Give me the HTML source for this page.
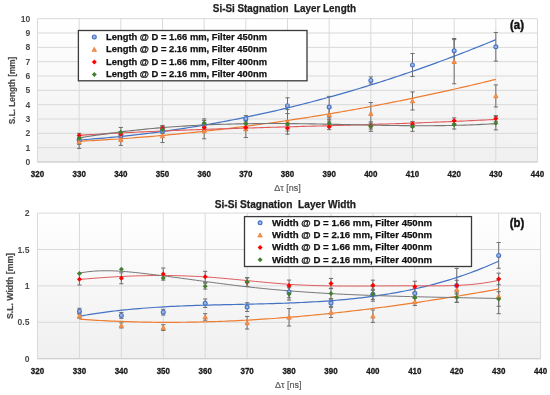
<!DOCTYPE html>
<html><head><meta charset="utf-8"><title>Si-Si Stagnation Layer</title>
<style>
html,body{margin:0;padding:0;background:#fff;width:550px;height:395px;overflow:hidden}
svg{display:block;filter:blur(0.3px)}
text{font-family:'Liberation Sans', Arial, sans-serif}
.tt{font-size:10.4px;font-weight:bold;fill:#1e1e1e;stroke:#1e1e1e;stroke-width:0.25px}
.ab{font-size:12.2px;font-weight:bold;fill:#111;stroke:#111;stroke-width:0.45px}
.yl{font-size:8.6px;font-weight:bold;fill:#4a4a4a}
.xl{font-size:8.4px;font-weight:bold;fill:#1a1a1a;stroke:#1a1a1a;stroke-width:0.3px}
.yt{font-size:8.8px;font-weight:bold;fill:#4a4a4a;stroke:#4a4a4a;stroke-width:0.2px}
.xt{font-size:9.2px;fill:#595959;stroke:#595959;stroke-width:0.2px}
.lg{font-size:9.6px;font-weight:bold;fill:#111;stroke:#111;stroke-width:0.25px}
</style></head><body>
<svg width="550" height="395" viewBox="0 0 550 395">
<defs>
<linearGradient id="gA" x1="0" y1="0" x2="0" y2="1"><stop offset="0" stop-color="#FFFFFF"/><stop offset="1" stop-color="#F0F0F0"/></linearGradient>
<linearGradient id="gB" x1="0" y1="0" x2="0" y2="1"><stop offset="0" stop-color="#FFFFFF"/><stop offset="1" stop-color="#F0F0F0"/></linearGradient>
</defs>
<rect width="550" height="395" fill="#FFFFFF"/>
<rect x="37.50" y="18.70" width="500.00" height="143.30" fill="url(#gA)"/><path d="M37.50,162.00H537.50M37.50,147.67H537.50M37.50,133.34H537.50M37.50,119.01H537.50M37.50,104.68H537.50M37.50,90.35H537.50M37.50,76.02H537.50M37.50,61.69H537.50M37.50,47.36H537.50M37.50,33.03H537.50M37.50,18.70H537.50M37.50,18.70V162.00M79.17,18.70V162.00M120.83,18.70V162.00M162.50,18.70V162.00M204.17,18.70V162.00M245.83,18.70V162.00M287.50,18.70V162.00M329.17,18.70V162.00M370.83,18.70V162.00M412.50,18.70V162.00M454.17,18.70V162.00M495.83,18.70V162.00M537.50,18.70V162.00" stroke="#D9D9D9" stroke-width="1" fill="none"/><path d="M37.50,162.00H537.50" stroke="#CDCDCD" stroke-width="1.1" fill="none"/><text x="30.3" y="165.10" text-anchor="end" class="yl">0</text><text x="30.3" y="150.77" text-anchor="end" class="yl">1</text><text x="30.3" y="136.44" text-anchor="end" class="yl">2</text><text x="30.3" y="122.11" text-anchor="end" class="yl">3</text><text x="30.3" y="107.78" text-anchor="end" class="yl">4</text><text x="30.3" y="93.45" text-anchor="end" class="yl">5</text><text x="30.3" y="79.12" text-anchor="end" class="yl">6</text><text x="30.3" y="64.79" text-anchor="end" class="yl">7</text><text x="30.3" y="50.46" text-anchor="end" class="yl">8</text><text x="30.3" y="36.13" text-anchor="end" class="yl">9</text><text x="30.3" y="21.80" text-anchor="end" class="yl">10</text><text x="37.50" y="177.00" text-anchor="middle" class="xl" textLength="13.3" lengthAdjust="spacingAndGlyphs">320</text><text x="79.17" y="177.00" text-anchor="middle" class="xl" textLength="13.3" lengthAdjust="spacingAndGlyphs">330</text><text x="120.83" y="177.00" text-anchor="middle" class="xl" textLength="13.3" lengthAdjust="spacingAndGlyphs">340</text><text x="162.50" y="177.00" text-anchor="middle" class="xl" textLength="13.3" lengthAdjust="spacingAndGlyphs">350</text><text x="204.17" y="177.00" text-anchor="middle" class="xl" textLength="13.3" lengthAdjust="spacingAndGlyphs">360</text><text x="245.83" y="177.00" text-anchor="middle" class="xl" textLength="13.3" lengthAdjust="spacingAndGlyphs">370</text><text x="287.50" y="177.00" text-anchor="middle" class="xl" textLength="13.3" lengthAdjust="spacingAndGlyphs">380</text><text x="329.17" y="177.00" text-anchor="middle" class="xl" textLength="13.3" lengthAdjust="spacingAndGlyphs">390</text><text x="370.83" y="177.00" text-anchor="middle" class="xl" textLength="13.3" lengthAdjust="spacingAndGlyphs">400</text><text x="412.50" y="177.00" text-anchor="middle" class="xl" textLength="13.3" lengthAdjust="spacingAndGlyphs">410</text><text x="454.17" y="177.00" text-anchor="middle" class="xl" textLength="13.3" lengthAdjust="spacingAndGlyphs">420</text><text x="495.83" y="177.00" text-anchor="middle" class="xl" textLength="13.3" lengthAdjust="spacingAndGlyphs">430</text><text x="537.50" y="177.00" text-anchor="middle" class="xl" textLength="13.3" lengthAdjust="spacingAndGlyphs">440</text><text transform="translate(15.20,90.40) rotate(-90)" text-anchor="middle" class="yt" textLength="67.5" lengthAdjust="spacingAndGlyphs">S.L. Length [mm]</text><text x="274.30" y="191.00" class="xt" textLength="26.5" lengthAdjust="spacingAndGlyphs">&#916;&#964; [ns]</text>
<text x="212.8" y="12.0" class="tt" textLength="143.2" lengthAdjust="spacingAndGlyphs">Si-Si Stagnation&#160; Layer Length</text>
<text x="517" y="29.1" text-anchor="middle" class="ab" textLength="13.9" lengthAdjust="spacingAndGlyphs">(a)</text>
<g stroke="#6E6E6E" stroke-width="1.0" fill="none"><path d="M79.17,135.78V144.37M77.07,135.78H81.27M77.07,144.37H81.27"/><path d="M120.83,131.62V140.22M118.73,131.62H122.93M118.73,140.22H122.93"/><path d="M162.50,126.89V135.49M160.40,126.89H164.60M160.40,135.49H164.60"/><path d="M204.17,120.44V129.04M202.07,120.44H206.27M202.07,129.04H206.27"/><path d="M245.83,115.57V121.88M243.73,115.57H247.93M243.73,121.88H247.93"/><path d="M287.50,97.80V113.56M285.40,97.80H289.60M285.40,113.56H289.60"/><path d="M329.17,96.37V117.86M327.07,96.37H331.27M327.07,117.86H331.27"/><path d="M370.83,76.88V84.04M368.73,76.88H372.93M368.73,84.04H372.93"/><path d="M412.50,53.52V76.45M410.40,53.52H414.60M410.40,76.45H414.60"/><path d="M454.17,38.48V62.84M452.07,38.48H456.27M452.07,62.84H456.27"/><path d="M495.83,32.46V61.12M493.73,32.46H497.93M493.73,61.12H497.93"/></g>
<g stroke="#6E6E6E" stroke-width="1.0" fill="none"><path d="M79.17,135.49V148.39M77.07,135.49H81.27M77.07,148.39H81.27"/><path d="M120.83,133.91V145.38M118.73,133.91H122.93M118.73,145.38H122.93"/><path d="M162.50,129.33V142.51M160.40,129.33H164.60M160.40,142.51H164.60"/><path d="M204.17,123.02V138.79M202.07,123.02H206.27M202.07,138.79H206.27"/><path d="M245.83,120.30V137.50M243.73,120.30H247.93M243.73,137.50H247.93"/><path d="M287.50,109.55V134.20M285.40,109.55H289.60M285.40,134.20H289.60"/><path d="M329.17,108.26V121.16M327.07,108.26H331.27M327.07,121.16H331.27"/><path d="M370.83,102.53V124.60M368.73,102.53H372.93M368.73,124.60H372.93"/><path d="M412.50,91.93V109.98M410.40,91.93H414.60M410.40,109.98H414.60"/><path d="M454.17,39.62V83.76M452.07,39.62H456.27M452.07,83.76H456.27"/><path d="M495.83,84.90V106.97M493.73,84.90H497.93M493.73,106.97H497.93"/></g>
<g stroke="#6E6E6E" stroke-width="1.0" fill="none"><path d="M79.17,133.34V137.64M77.07,133.34H81.27M77.07,137.64H81.27"/><path d="M120.83,131.48V137.21M118.73,131.48H122.93M118.73,137.21H122.93"/><path d="M162.50,125.46V131.19M160.40,125.46H164.60M160.40,131.19H164.60"/><path d="M204.17,124.74V130.47M202.07,124.74H206.27M202.07,130.47H206.27"/><path d="M245.83,124.74V130.47M243.73,124.74H247.93M243.73,130.47H247.93"/><path d="M287.50,125.32V131.05M285.40,125.32H289.60M285.40,131.05H289.60"/><path d="M329.17,123.88V129.61M327.07,123.88H331.27M327.07,129.61H331.27"/><path d="M370.83,123.31V129.04M368.73,123.31H372.93M368.73,129.04H372.93"/><path d="M412.50,121.45V127.18M410.40,121.45H414.60M410.40,127.18H414.60"/><path d="M454.17,117.86V123.60M452.07,117.86H456.27M452.07,123.60H456.27"/><path d="M495.83,115.57V121.30M493.73,115.57H497.93M493.73,121.30H497.93"/></g>
<g stroke="#6E6E6E" stroke-width="1.0" fill="none"><path d="M79.17,135.35V141.08M77.07,135.35H81.27M77.07,141.08H81.27"/><path d="M120.83,127.46V136.92M118.73,127.46H122.93M118.73,136.92H122.93"/><path d="M162.50,126.17V133.34M160.40,126.17H164.60M160.40,133.34H164.60"/><path d="M204.17,118.87V127.75M202.07,118.87H206.27M202.07,127.75H206.27"/><path d="M245.83,120.01V127.18M243.73,120.01H247.93M243.73,127.18H247.93"/><path d="M287.50,120.44V127.61M285.40,120.44H289.60M285.40,127.61H289.60"/><path d="M329.17,119.73V126.89M327.07,119.73H331.27M327.07,126.89H331.27"/><path d="M370.83,121.88V131.33M368.73,121.88H372.93M368.73,131.33H372.93"/><path d="M412.50,122.16V131.33M410.40,122.16H414.60M410.40,131.33H414.60"/><path d="M454.17,120.44V129.04M452.07,120.44H456.27M452.07,129.04H456.27"/><path d="M495.83,116.72V129.90M493.73,116.72H497.93M493.73,129.90H497.93"/></g>
<path d="M79.17,139.98 L82.67,139.74 L86.17,139.49 L89.67,139.23 L93.17,138.96 L96.67,138.68 L100.18,138.38 L103.68,138.08 L107.18,137.77 L110.68,137.45 L114.18,137.12 L117.68,136.77 L121.18,136.42 L124.68,136.06 L128.19,135.68 L131.69,135.30 L135.19,134.91 L138.69,134.50 L142.19,134.09 L145.69,133.67 L149.19,133.23 L152.70,132.79 L156.20,132.33 L159.70,131.87 L163.20,131.39 L166.70,130.91 L170.20,130.41 L173.70,129.90 L177.21,129.39 L180.71,128.86 L184.21,128.33 L187.71,127.78 L191.21,127.22 L194.71,126.65 L198.21,126.08 L201.72,125.49 L205.22,124.89 L208.72,124.28 L212.22,123.67 L215.72,123.04 L219.22,122.40 L222.72,121.75 L226.23,121.09 L229.73,120.42 L233.23,119.74 L236.73,119.05 L240.23,118.35 L243.73,117.64 L247.23,116.92 L250.74,116.19 L254.24,115.45 L257.74,114.70 L261.24,113.94 L264.74,113.17 L268.24,112.38 L271.74,111.59 L275.25,110.79 L278.75,109.98 L282.25,109.15 L285.75,108.32 L289.25,107.48 L292.75,106.63 L296.25,105.76 L299.75,104.89 L303.26,104.00 L306.76,103.11 L310.26,102.21 L313.76,101.29 L317.26,100.37 L320.76,99.43 L324.26,98.49 L327.77,97.53 L331.27,96.56 L334.77,95.59 L338.27,94.60 L341.77,93.61 L345.27,92.60 L348.77,91.58 L352.28,90.56 L355.78,89.52 L359.28,88.47 L362.78,87.41 L366.28,86.35 L369.78,85.27 L373.28,84.18 L376.79,83.08 L380.29,81.97 L383.79,80.85 L387.29,79.73 L390.79,78.59 L394.29,77.44 L397.79,76.28 L401.30,75.11 L404.80,73.93 L408.30,72.74 L411.80,71.54 L415.30,70.32 L418.80,69.10 L422.30,67.87 L425.81,66.63 L429.31,65.38 L432.81,64.12 L436.31,62.85 L439.81,61.56 L443.31,60.27 L446.81,58.97 L450.32,57.65 L453.82,56.33 L457.32,55.00 L460.82,53.65 L464.32,52.30 L467.82,50.94 L471.32,49.56 L474.82,48.18 L478.33,46.78 L481.83,45.38 L485.33,43.96 L488.83,42.54 L492.33,41.10 L495.83,39.66" fill="none" stroke="#4472C4" stroke-width="1.2" stroke-linejoin="round"/>
<path d="M79.17,141.31 L82.67,141.13 L86.17,140.95 L89.67,140.75 L93.17,140.55 L96.67,140.35 L100.18,140.14 L103.68,139.92 L107.18,139.70 L110.68,139.47 L114.18,139.24 L117.68,139.00 L121.18,138.76 L124.68,138.51 L128.19,138.25 L131.69,137.99 L135.19,137.72 L138.69,137.45 L142.19,137.17 L145.69,136.88 L149.19,136.59 L152.70,136.29 L156.20,135.99 L159.70,135.68 L163.20,135.37 L166.70,135.05 L170.20,134.72 L173.70,134.39 L177.21,134.06 L180.71,133.71 L184.21,133.37 L187.71,133.01 L191.21,132.65 L194.71,132.29 L198.21,131.91 L201.72,131.54 L205.22,131.16 L208.72,130.77 L212.22,130.37 L215.72,129.97 L219.22,129.57 L222.72,129.15 L226.23,128.74 L229.73,128.31 L233.23,127.89 L236.73,127.45 L240.23,127.01 L243.73,126.56 L247.23,126.11 L250.74,125.65 L254.24,125.19 L257.74,124.72 L261.24,124.25 L264.74,123.77 L268.24,123.28 L271.74,122.79 L275.25,122.29 L278.75,121.79 L282.25,121.28 L285.75,120.76 L289.25,120.24 L292.75,119.71 L296.25,119.18 L299.75,118.64 L303.26,118.10 L306.76,117.55 L310.26,117.00 L313.76,116.43 L317.26,115.87 L320.76,115.29 L324.26,114.72 L327.77,114.13 L331.27,113.54 L334.77,112.95 L338.27,112.35 L341.77,111.74 L345.27,111.13 L348.77,110.51 L352.28,109.88 L355.78,109.25 L359.28,108.62 L362.78,107.97 L366.28,107.33 L369.78,106.67 L373.28,106.02 L376.79,105.35 L380.29,104.68 L383.79,104.00 L387.29,103.32 L390.79,102.63 L394.29,101.94 L397.79,101.24 L401.30,100.54 L404.80,99.83 L408.30,99.11 L411.80,98.39 L415.30,97.66 L418.80,96.93 L422.30,96.19 L425.81,95.44 L429.31,94.69 L432.81,93.93 L436.31,93.17 L439.81,92.40 L443.31,91.63 L446.81,90.85 L450.32,90.06 L453.82,89.27 L457.32,88.48 L460.82,87.67 L464.32,86.87 L467.82,86.05 L471.32,85.23 L474.82,84.41 L478.33,83.57 L481.83,82.74 L485.33,81.89 L488.83,81.05 L492.33,80.19 L495.83,79.33" fill="none" stroke="#ED7D31" stroke-width="1.2" stroke-linejoin="round"/>
<path d="M79.17,135.30 L82.67,135.09 L86.17,134.87 L89.67,134.66 L93.17,134.45 L96.67,134.25 L100.18,134.05 L103.68,133.86 L107.18,133.66 L110.68,133.47 L114.18,133.29 L117.68,133.10 L121.18,132.92 L124.68,132.75 L128.19,132.57 L131.69,132.40 L135.19,132.23 L138.69,132.07 L142.19,131.91 L145.69,131.75 L149.19,131.59 L152.70,131.44 L156.20,131.28 L159.70,131.13 L163.20,130.99 L166.70,130.84 L170.20,130.70 L173.70,130.56 L177.21,130.42 L180.71,130.29 L184.21,130.15 L187.71,130.02 L191.21,129.89 L194.71,129.76 L198.21,129.64 L201.72,129.51 L205.22,129.39 L208.72,129.27 L212.22,129.15 L215.72,129.03 L219.22,128.92 L222.72,128.80 L226.23,128.69 L229.73,128.58 L233.23,128.47 L236.73,128.36 L240.23,128.25 L243.73,128.14 L247.23,128.04 L250.74,127.93 L254.24,127.83 L257.74,127.72 L261.24,127.62 L264.74,127.52 L268.24,127.41 L271.74,127.31 L275.25,127.21 L278.75,127.11 L282.25,127.01 L285.75,126.91 L289.25,126.82 L292.75,126.72 L296.25,126.62 L299.75,126.52 L303.26,126.42 L306.76,126.32 L310.26,126.23 L313.76,126.13 L317.26,126.03 L320.76,125.93 L324.26,125.83 L327.77,125.73 L331.27,125.63 L334.77,125.53 L338.27,125.43 L341.77,125.33 L345.27,125.23 L348.77,125.13 L352.28,125.02 L355.78,124.92 L359.28,124.81 L362.78,124.71 L366.28,124.60 L369.78,124.49 L373.28,124.38 L376.79,124.27 L380.29,124.16 L383.79,124.05 L387.29,123.93 L390.79,123.82 L394.29,123.70 L397.79,123.58 L401.30,123.46 L404.80,123.34 L408.30,123.22 L411.80,123.09 L415.30,122.96 L418.80,122.83 L422.30,122.70 L425.81,122.57 L429.31,122.44 L432.81,122.30 L436.31,122.16 L439.81,122.02 L443.31,121.87 L446.81,121.73 L450.32,121.58 L453.82,121.43 L457.32,121.28 L460.82,121.12 L464.32,120.96 L467.82,120.80 L471.32,120.64 L474.82,120.47 L478.33,120.30 L481.83,120.13 L485.33,119.95 L488.83,119.77 L492.33,119.59 L495.83,119.40" fill="none" stroke="#E05A5A" stroke-width="1.1" stroke-linejoin="round"/>
<path d="M79.17,137.92 L82.67,137.34 L86.17,136.76 L89.67,136.20 L93.17,135.66 L96.67,135.13 L100.18,134.61 L103.68,134.11 L107.18,133.63 L110.68,133.15 L114.18,132.69 L117.68,132.24 L121.18,131.81 L124.68,131.39 L128.19,130.98 L131.69,130.58 L135.19,130.20 L138.69,129.83 L142.19,129.47 L145.69,129.13 L149.19,128.79 L152.70,128.47 L156.20,128.16 L159.70,127.86 L163.20,127.58 L166.70,127.30 L170.20,127.04 L173.70,126.78 L177.21,126.54 L180.71,126.31 L184.21,126.09 L187.71,125.87 L191.21,125.67 L194.71,125.48 L198.21,125.30 L201.72,125.13 L205.22,124.97 L208.72,124.82 L212.22,124.67 L215.72,124.54 L219.22,124.42 L222.72,124.30 L226.23,124.19 L229.73,124.10 L233.23,124.01 L236.73,123.92 L240.23,123.85 L243.73,123.79 L247.23,123.73 L250.74,123.68 L254.24,123.64 L257.74,123.60 L261.24,123.57 L264.74,123.55 L268.24,123.54 L271.74,123.53 L275.25,123.53 L278.75,123.54 L282.25,123.55 L285.75,123.57 L289.25,123.60 L292.75,123.63 L296.25,123.66 L299.75,123.71 L303.26,123.75 L306.76,123.80 L310.26,123.86 L313.76,123.92 L317.26,123.98 L320.76,124.04 L324.26,124.11 L327.77,124.18 L331.27,124.25 L334.77,124.33 L338.27,124.40 L341.77,124.48 L345.27,124.56 L348.77,124.64 L352.28,124.71 L355.78,124.79 L359.28,124.87 L362.78,124.94 L366.28,125.02 L369.78,125.09 L373.28,125.16 L376.79,125.23 L380.29,125.29 L383.79,125.35 L387.29,125.41 L390.79,125.46 L394.29,125.52 L397.79,125.56 L401.30,125.60 L404.80,125.64 L408.30,125.67 L411.80,125.69 L415.30,125.71 L418.80,125.72 L422.30,125.73 L425.81,125.73 L429.31,125.72 L432.81,125.70 L436.31,125.67 L439.81,125.64 L443.31,125.59 L446.81,125.54 L450.32,125.48 L453.82,125.40 L457.32,125.32 L460.82,125.23 L464.32,125.12 L467.82,125.01 L471.32,124.88 L474.82,124.74 L478.33,124.59 L481.83,124.42 L485.33,124.24 L488.83,124.05 L492.33,123.85 L495.83,123.63" fill="none" stroke="#767676" stroke-width="1.1" stroke-linejoin="round"/>
<circle cx="79.17" cy="140.08" r="1.95" fill="#9DB5E6" stroke="#4472C4" stroke-width="1.1"/><circle cx="120.83" cy="135.92" r="1.95" fill="#9DB5E6" stroke="#4472C4" stroke-width="1.1"/><circle cx="162.50" cy="131.19" r="1.95" fill="#9DB5E6" stroke="#4472C4" stroke-width="1.1"/><circle cx="204.17" cy="124.74" r="1.95" fill="#9DB5E6" stroke="#4472C4" stroke-width="1.1"/><circle cx="245.83" cy="118.72" r="1.95" fill="#9DB5E6" stroke="#4472C4" stroke-width="1.1"/><circle cx="287.50" cy="105.68" r="1.95" fill="#9DB5E6" stroke="#4472C4" stroke-width="1.1"/><circle cx="329.17" cy="107.12" r="1.95" fill="#9DB5E6" stroke="#4472C4" stroke-width="1.1"/><circle cx="370.83" cy="80.46" r="1.95" fill="#9DB5E6" stroke="#4472C4" stroke-width="1.1"/><circle cx="412.50" cy="64.99" r="1.95" fill="#9DB5E6" stroke="#4472C4" stroke-width="1.1"/><circle cx="454.17" cy="50.66" r="1.95" fill="#9DB5E6" stroke="#4472C4" stroke-width="1.1"/><circle cx="495.83" cy="46.79" r="1.95" fill="#9DB5E6" stroke="#4472C4" stroke-width="1.1"/>
<path d="M79.17,139.74L81.37,143.81L76.97,143.81Z" fill="#F0955A" stroke="#ED7D31" stroke-width="0.8"/><path d="M120.83,137.45L123.03,141.52L118.63,141.52Z" fill="#F0955A" stroke="#ED7D31" stroke-width="0.8"/><path d="M162.50,133.72L164.70,137.79L160.30,137.79Z" fill="#F0955A" stroke="#ED7D31" stroke-width="0.8"/><path d="M204.17,128.70L206.37,132.77L201.97,132.77Z" fill="#F0955A" stroke="#ED7D31" stroke-width="0.8"/><path d="M245.83,126.70L248.03,130.77L243.63,130.77Z" fill="#F0955A" stroke="#ED7D31" stroke-width="0.8"/><path d="M287.50,119.68L289.70,123.75L285.30,123.75Z" fill="#F0955A" stroke="#ED7D31" stroke-width="0.8"/><path d="M329.17,112.51L331.37,116.58L326.97,116.58Z" fill="#F0955A" stroke="#ED7D31" stroke-width="0.8"/><path d="M370.83,111.36L373.03,115.43L368.63,115.43Z" fill="#F0955A" stroke="#ED7D31" stroke-width="0.8"/><path d="M412.50,98.75L414.70,102.82L410.30,102.82Z" fill="#F0955A" stroke="#ED7D31" stroke-width="0.8"/><path d="M454.17,59.49L456.37,63.56L451.97,63.56Z" fill="#F0955A" stroke="#ED7D31" stroke-width="0.8"/><path d="M495.83,93.74L498.03,97.81L493.63,97.81Z" fill="#F0955A" stroke="#ED7D31" stroke-width="0.8"/>
<path d="M79.17,132.99L81.67,135.49L79.17,137.99L76.67,135.49Z" fill="#FF0000"/><path d="M120.83,131.84L123.33,134.34L120.83,136.84L118.33,134.34Z" fill="#FF0000"/><path d="M162.50,125.82L165.00,128.32L162.50,130.82L160.00,128.32Z" fill="#FF0000"/><path d="M204.17,125.11L206.67,127.61L204.17,130.11L201.67,127.61Z" fill="#FF0000"/><path d="M245.83,125.11L248.33,127.61L245.83,130.11L243.33,127.61Z" fill="#FF0000"/><path d="M287.50,125.68L290.00,128.18L287.50,130.68L285.00,128.18Z" fill="#FF0000"/><path d="M329.17,124.25L331.67,126.75L329.17,129.25L326.67,126.75Z" fill="#FF0000"/><path d="M370.83,123.67L373.33,126.17L370.83,128.68L368.33,126.17Z" fill="#FF0000"/><path d="M412.50,121.81L415.00,124.31L412.50,126.81L410.00,124.31Z" fill="#FF0000"/><path d="M454.17,118.23L456.67,120.73L454.17,123.23L451.67,120.73Z" fill="#FF0000"/><path d="M495.83,115.94L498.33,118.44L495.83,120.94L493.33,118.44Z" fill="#FF0000"/>
<path d="M79.17,135.71L81.67,138.21L79.17,140.71L76.67,138.21Z" fill="#437F2F"/><path d="M120.83,129.69L123.33,132.19L120.83,134.69L118.33,132.19Z" fill="#437F2F"/><path d="M162.50,127.26L165.00,129.76L162.50,132.26L160.00,129.76Z" fill="#437F2F"/><path d="M204.17,120.81L206.67,123.31L204.17,125.81L201.67,123.31Z" fill="#437F2F"/><path d="M245.83,121.10L248.33,123.60L245.83,126.10L243.33,123.60Z" fill="#437F2F"/><path d="M287.50,121.53L290.00,124.03L287.50,126.53L285.00,124.03Z" fill="#437F2F"/><path d="M329.17,120.81L331.67,123.31L329.17,125.81L326.67,123.31Z" fill="#437F2F"/><path d="M370.83,124.10L373.33,126.60L370.83,129.10L368.33,126.60Z" fill="#437F2F"/><path d="M412.50,124.25L415.00,126.75L412.50,129.25L410.00,126.75Z" fill="#437F2F"/><path d="M454.17,122.24L456.67,124.74L454.17,127.24L451.67,124.74Z" fill="#437F2F"/><path d="M495.83,120.81L498.33,123.31L495.83,125.81L493.33,123.31Z" fill="#437F2F"/>
<rect x="78.40" y="30.50" width="228.60" height="50.30" fill="#fff" stroke="#3A3A3A" stroke-width="1.3"/><circle cx="94.30" cy="37.00" r="1.95" fill="#9DB5E6" stroke="#4472C4" stroke-width="1.1"/><text x="106.00" y="39.80" class="lg" textLength="161.0" lengthAdjust="spacingAndGlyphs">Length @ D = 1.66 mm, Filter 450nm</text><path d="M94.30,47.30L96.50,51.37L92.10,51.37Z" fill="#F0955A" stroke="#ED7D31" stroke-width="0.8"/><text x="106.00" y="52.30" class="lg" textLength="161.0" lengthAdjust="spacingAndGlyphs">Length @ D = 2.16 mm, Filter 450nm</text><path d="M94.30,59.50L96.80,62.00L94.30,64.50L91.80,62.00Z" fill="#FF0000"/><text x="106.00" y="64.80" class="lg" textLength="161.0" lengthAdjust="spacingAndGlyphs">Length @ D = 1.66 mm, Filter 400nm</text><path d="M94.30,72.10L96.80,74.60L94.30,77.10L91.80,74.60Z" fill="#437F2F"/><text x="106.00" y="77.40" class="lg" textLength="161.0" lengthAdjust="spacingAndGlyphs">Length @ D = 2.16 mm, Filter 400nm</text>
<rect x="37.50" y="213.10" width="503.10" height="145.60" fill="url(#gB)"/><path d="M37.50,358.70H540.60M37.50,322.30H540.60M37.50,285.90H540.60M37.50,249.50H540.60M37.50,213.10H540.60M37.50,213.10V358.70M79.42,213.10V358.70M121.35,213.10V358.70M163.28,213.10V358.70M205.20,213.10V358.70M247.12,213.10V358.70M289.05,213.10V358.70M330.98,213.10V358.70M372.90,213.10V358.70M414.82,213.10V358.70M456.75,213.10V358.70M498.68,213.10V358.70M540.60,213.10V358.70" stroke="#D9D9D9" stroke-width="1" fill="none"/><path d="M37.50,358.70H540.60" stroke="#CDCDCD" stroke-width="1.1" fill="none"/><text x="29.5" y="361.80" text-anchor="end" class="yl">0</text><text x="29.5" y="325.40" text-anchor="end" class="yl">0.5</text><text x="29.5" y="289.00" text-anchor="end" class="yl">1</text><text x="29.5" y="252.60" text-anchor="end" class="yl">1.5</text><text x="29.5" y="216.20" text-anchor="end" class="yl">2</text><text x="37.50" y="373.90" text-anchor="middle" class="xl" textLength="13.3" lengthAdjust="spacingAndGlyphs">320</text><text x="79.42" y="373.90" text-anchor="middle" class="xl" textLength="13.3" lengthAdjust="spacingAndGlyphs">330</text><text x="121.35" y="373.90" text-anchor="middle" class="xl" textLength="13.3" lengthAdjust="spacingAndGlyphs">340</text><text x="163.28" y="373.90" text-anchor="middle" class="xl" textLength="13.3" lengthAdjust="spacingAndGlyphs">350</text><text x="205.20" y="373.90" text-anchor="middle" class="xl" textLength="13.3" lengthAdjust="spacingAndGlyphs">360</text><text x="247.12" y="373.90" text-anchor="middle" class="xl" textLength="13.3" lengthAdjust="spacingAndGlyphs">370</text><text x="289.05" y="373.90" text-anchor="middle" class="xl" textLength="13.3" lengthAdjust="spacingAndGlyphs">380</text><text x="330.98" y="373.90" text-anchor="middle" class="xl" textLength="13.3" lengthAdjust="spacingAndGlyphs">390</text><text x="372.90" y="373.90" text-anchor="middle" class="xl" textLength="13.3" lengthAdjust="spacingAndGlyphs">400</text><text x="414.82" y="373.90" text-anchor="middle" class="xl" textLength="13.3" lengthAdjust="spacingAndGlyphs">410</text><text x="456.75" y="373.90" text-anchor="middle" class="xl" textLength="13.3" lengthAdjust="spacingAndGlyphs">420</text><text x="498.68" y="373.90" text-anchor="middle" class="xl" textLength="13.3" lengthAdjust="spacingAndGlyphs">430</text><text x="540.60" y="373.90" text-anchor="middle" class="xl" textLength="13.3" lengthAdjust="spacingAndGlyphs">440</text><text transform="translate(12.60,286.00) rotate(-90)" text-anchor="middle" class="yt" textLength="66.0" lengthAdjust="spacingAndGlyphs">S.L. Width [mm]</text><text x="275.00" y="388.00" class="xt" textLength="26.5" lengthAdjust="spacingAndGlyphs">&#916;&#964; [ns]</text>
<text x="214.7" y="207.8" class="tt" textLength="141.3" lengthAdjust="spacingAndGlyphs">Si-Si Stagnation&#160; Layer Width</text>
<text x="517" y="227.4" text-anchor="middle" class="ab" textLength="14.5" lengthAdjust="spacingAndGlyphs">(b)</text>
<g stroke="#6E6E6E" stroke-width="1.0" fill="none"><path d="M79.42,308.32V314.15M77.33,308.32H81.52M77.33,314.15H81.52"/><path d="M121.35,312.47V318.30M119.25,312.47H123.45M119.25,318.30H123.45"/><path d="M163.28,309.27V315.09M161.18,309.27H165.38M161.18,315.09H165.38"/><path d="M205.20,299.00V307.45M203.10,299.00H207.30M203.10,307.45H207.30"/><path d="M247.12,302.72V311.45M245.03,302.72H249.22M245.03,311.45H249.22"/><path d="M289.05,286.19V297.84M286.95,286.19H291.15M286.95,297.84H291.15"/><path d="M330.98,299.80V306.36M328.88,299.80H333.08M328.88,306.36H333.08"/><path d="M372.90,289.18V299.37M370.80,289.18H375.00M370.80,299.37H375.00"/><path d="M414.82,288.30V298.49M412.72,288.30H416.93M412.72,298.49H416.93"/><path d="M456.75,268.43V302.35M454.65,268.43H458.85M454.65,302.35H458.85"/><path d="M498.68,242.51V268.28M496.57,242.51H500.78M496.57,268.28H500.78"/></g>
<g stroke="#6E6E6E" stroke-width="1.0" fill="none"><path d="M79.42,313.78V318.15M77.33,313.78H81.52M77.33,318.15H81.52"/><path d="M121.35,322.88V327.98M119.25,322.88H123.45M119.25,327.98H123.45"/><path d="M163.28,324.70V330.53M161.18,324.70H165.38M161.18,330.53H165.38"/><path d="M205.20,313.64V320.19M203.10,313.64H207.30M203.10,320.19H207.30"/><path d="M247.12,316.48V329.00M245.03,316.48H249.22M245.03,329.00H249.22"/><path d="M289.05,308.54V326.01M286.95,308.54H291.15M286.95,326.01H291.15"/><path d="M330.98,307.38V317.57M328.88,307.38H333.08M328.88,317.57H333.08"/><path d="M372.90,310.00V322.37M370.80,310.00H375.00M370.80,322.37H375.00"/><path d="M414.82,298.28V305.56M412.72,298.28H416.93M412.72,305.56H416.93"/><path d="M456.75,285.32V294.05M454.65,285.32H458.85M454.65,294.05H458.85"/><path d="M498.68,278.77V313.71M496.57,278.77H500.78M496.57,313.71H500.78"/></g>
<g stroke="#6E6E6E" stroke-width="1.0" fill="none"><path d="M79.42,273.38V285.03M77.33,273.38H81.52M77.33,285.03H81.52"/><path d="M121.35,272.80V283.72M119.25,272.80H123.45M119.25,283.72H123.45"/><path d="M163.28,268.06V280.15M161.18,268.06H165.38M161.18,280.15H165.38"/><path d="M205.20,271.34V282.41M203.10,271.34H207.30M203.10,282.41H207.30"/><path d="M247.12,277.82V286.56M245.03,277.82H249.22M245.03,286.56H249.22"/><path d="M289.05,280.08V290.70M286.95,280.08H291.15M286.95,290.70H291.15"/><path d="M330.98,278.47V288.67M328.88,278.47H333.08M328.88,288.67H333.08"/><path d="M372.90,280.15V290.34M370.80,280.15H375.00M370.80,290.34H375.00"/><path d="M414.82,281.24V292.16M412.72,281.24H416.93M412.72,292.16H416.93"/><path d="M456.75,280.29V290.49M454.65,280.29H458.85M454.65,290.49H458.85"/><path d="M498.68,273.16V284.81M496.57,273.16H500.78M496.57,284.81H500.78"/></g>
<g stroke="#6E6E6E" stroke-width="1.0" fill="none"><path d="M205.20,283.28V289.10M203.10,283.28H207.30M203.10,289.10H207.30"/><path d="M247.12,277.75V286.48M245.03,277.75H249.22M245.03,286.48H249.22"/><path d="M289.05,287.72V300.10M286.95,287.72H291.15M286.95,300.10H291.15"/><path d="M330.98,288.30V298.49M328.88,288.30H333.08M328.88,298.49H333.08"/><path d="M372.90,286.63V301.19M370.80,286.63H375.00M370.80,301.19H375.00"/><path d="M414.82,292.45V302.64M412.72,292.45H416.93M412.72,302.64H416.93"/><path d="M456.75,293.03V302.21M454.65,293.03H458.85M454.65,302.21H458.85"/><path d="M498.68,291.72V306.28M496.57,291.72H500.78M496.57,306.28H500.78"/></g>
<path d="M79.42,316.25 L82.95,315.62 L86.47,315.02 L89.99,314.44 L93.52,313.89 L97.04,313.36 L100.56,312.85 L104.09,312.36 L107.61,311.89 L111.13,311.44 L114.66,311.02 L118.18,310.61 L121.70,310.22 L125.23,309.85 L128.75,309.50 L132.27,309.17 L135.79,308.85 L139.32,308.55 L142.84,308.26 L146.36,307.99 L149.89,307.74 L153.41,307.49 L156.93,307.27 L160.46,307.05 L163.98,306.85 L167.50,306.65 L171.03,306.47 L174.55,306.30 L178.07,306.14 L181.60,305.99 L185.12,305.85 L188.64,305.72 L192.16,305.59 L195.69,305.47 L199.21,305.36 L202.73,305.25 L206.26,305.15 L209.78,305.06 L213.30,304.97 L216.83,304.88 L220.35,304.80 L223.87,304.72 L227.40,304.64 L230.92,304.56 L234.44,304.48 L237.96,304.41 L241.49,304.33 L245.01,304.26 L248.53,304.18 L252.06,304.10 L255.58,304.02 L259.10,303.94 L262.63,303.85 L266.15,303.76 L269.67,303.66 L273.20,303.56 L276.72,303.46 L280.24,303.35 L283.77,303.23 L287.29,303.10 L290.81,302.97 L294.33,302.82 L297.86,302.67 L301.38,302.51 L304.90,302.34 L308.43,302.16 L311.95,301.97 L315.47,301.76 L319.00,301.55 L322.52,301.32 L326.04,301.08 L329.57,300.82 L333.09,300.55 L336.61,300.26 L340.14,299.96 L343.66,299.64 L347.18,299.31 L350.70,298.96 L354.23,298.59 L357.75,298.20 L361.27,297.79 L364.80,297.36 L368.32,296.92 L371.84,296.45 L375.37,295.96 L378.89,295.45 L382.41,294.92 L385.94,294.36 L389.46,293.78 L392.98,293.18 L396.50,292.55 L400.03,291.90 L403.55,291.22 L407.07,290.52 L410.60,289.79 L414.12,289.03 L417.64,288.24 L421.17,287.43 L424.69,286.58 L428.21,285.71 L431.74,284.81 L435.26,283.87 L438.78,282.91 L442.31,281.91 L445.83,280.88 L449.35,279.82 L452.87,278.72 L456.40,277.59 L459.92,276.43 L463.44,275.23 L466.97,273.99 L470.49,272.72 L474.01,271.41 L477.54,270.07 L481.06,268.68 L484.58,267.26 L488.11,265.80 L491.63,264.30 L495.15,262.76 L498.68,261.18" fill="none" stroke="#4472C4" stroke-width="1.2" stroke-linejoin="round"/>
<path d="M79.42,319.16 L82.95,319.41 L86.47,319.65 L89.99,319.88 L93.52,320.10 L97.04,320.31 L100.56,320.50 L104.09,320.69 L107.61,320.87 L111.13,321.03 L114.66,321.19 L118.18,321.33 L121.70,321.47 L125.23,321.59 L128.75,321.71 L132.27,321.81 L135.79,321.91 L139.32,322.00 L142.84,322.07 L146.36,322.14 L149.89,322.19 L153.41,322.24 L156.93,322.28 L160.46,322.30 L163.98,322.32 L167.50,322.33 L171.03,322.33 L174.55,322.32 L178.07,322.30 L181.60,322.27 L185.12,322.23 L188.64,322.19 L192.16,322.13 L195.69,322.07 L199.21,321.99 L202.73,321.91 L206.26,321.82 L209.78,321.72 L213.30,321.61 L216.83,321.49 L220.35,321.37 L223.87,321.23 L227.40,321.09 L230.92,320.94 L234.44,320.78 L237.96,320.61 L241.49,320.43 L245.01,320.25 L248.53,320.06 L252.06,319.85 L255.58,319.65 L259.10,319.43 L262.63,319.20 L266.15,318.97 L269.67,318.73 L273.20,318.48 L276.72,318.23 L280.24,317.96 L283.77,317.69 L287.29,317.41 L290.81,317.13 L294.33,316.84 L297.86,316.53 L301.38,316.23 L304.90,315.91 L308.43,315.59 L311.95,315.26 L315.47,314.92 L319.00,314.58 L322.52,314.23 L326.04,313.87 L329.57,313.51 L333.09,313.13 L336.61,312.76 L340.14,312.37 L343.66,311.98 L347.18,311.58 L350.70,311.18 L354.23,310.77 L357.75,310.35 L361.27,309.93 L364.80,309.50 L368.32,309.06 L371.84,308.62 L375.37,308.17 L378.89,307.72 L382.41,307.26 L385.94,306.79 L389.46,306.32 L392.98,305.84 L396.50,305.36 L400.03,304.87 L403.55,304.37 L407.07,303.87 L410.60,303.36 L414.12,302.85 L417.64,302.33 L421.17,301.81 L424.69,301.28 L428.21,300.75 L431.74,300.21 L435.26,299.67 L438.78,299.12 L442.31,298.56 L445.83,298.01 L449.35,297.44 L452.87,296.87 L456.40,296.30 L459.92,295.72 L463.44,295.14 L466.97,294.55 L470.49,293.96 L474.01,293.36 L477.54,292.76 L481.06,292.15 L484.58,291.54 L488.11,290.93 L491.63,290.31 L495.15,289.69 L498.68,289.06" fill="none" stroke="#ED7D31" stroke-width="1.2" stroke-linejoin="round"/>
<path d="M79.42,279.50 L82.95,279.18 L86.47,278.88 L89.99,278.58 L93.52,278.30 L97.04,278.02 L100.56,277.77 L104.09,277.52 L107.61,277.29 L111.13,277.07 L114.66,276.86 L118.18,276.67 L121.70,276.49 L125.23,276.32 L128.75,276.17 L132.27,276.04 L135.79,275.92 L139.32,275.81 L142.84,275.72 L146.36,275.64 L149.89,275.59 L153.41,275.54 L156.93,275.52 L160.46,275.51 L163.98,275.51 L167.50,275.54 L171.03,275.58 L174.55,275.63 L178.07,275.71 L181.60,275.80 L185.12,275.92 L188.64,276.05 L192.16,276.20 L195.69,276.37 L199.21,276.55 L202.73,276.76 L206.26,276.99 L209.78,277.23 L213.30,277.49 L216.83,277.77 L220.35,278.07 L223.87,278.37 L227.40,278.69 L230.92,279.02 L234.44,279.35 L237.96,279.69 L241.49,280.04 L245.01,280.39 L248.53,280.73 L252.06,281.08 L255.58,281.43 L259.10,281.77 L262.63,282.11 L266.15,282.44 L269.67,282.76 L273.20,283.07 L276.72,283.37 L280.24,283.65 L283.77,283.92 L287.29,284.17 L290.81,284.41 L294.33,284.62 L297.86,284.82 L301.38,285.00 L304.90,285.16 L308.43,285.30 L311.95,285.43 L315.47,285.55 L319.00,285.65 L322.52,285.73 L326.04,285.81 L329.57,285.87 L333.09,285.93 L336.61,285.97 L340.14,286.00 L343.66,286.02 L347.18,286.04 L350.70,286.05 L354.23,286.05 L357.75,286.05 L361.27,286.04 L364.80,286.02 L368.32,286.01 L371.84,285.99 L375.37,285.96 L378.89,285.94 L382.41,285.92 L385.94,285.89 L389.46,285.87 L392.98,285.85 L396.50,285.83 L400.03,285.81 L403.55,285.80 L407.07,285.79 L410.60,285.79 L414.12,285.79 L417.64,285.80 L421.17,285.82 L424.69,285.83 L428.21,285.84 L431.74,285.85 L435.26,285.85 L438.78,285.83 L442.31,285.80 L445.83,285.75 L449.35,285.67 L452.87,285.57 L456.40,285.44 L459.92,285.27 L463.44,285.07 L466.97,284.83 L470.49,284.55 L474.01,284.21 L477.54,283.83 L481.06,283.40 L484.58,282.90 L488.11,282.35 L491.63,281.73 L495.15,281.05 L498.68,280.29" fill="none" stroke="#E05A5A" stroke-width="1.0" stroke-linejoin="round"/>
<path d="M79.42,273.06 L82.95,272.45 L86.47,271.94 L89.99,271.53 L93.52,271.21 L97.04,270.98 L100.56,270.82 L104.09,270.75 L107.61,270.75 L111.13,270.81 L114.66,270.93 L118.18,271.10 L121.70,271.32 L125.23,271.59 L128.75,271.89 L132.27,272.22 L135.79,272.59 L139.32,272.97 L142.84,273.36 L146.36,273.77 L149.89,274.19 L153.41,274.62 L156.93,275.05 L160.46,275.50 L163.98,275.95 L167.50,276.40 L171.03,276.87 L174.55,277.33 L178.07,277.80 L181.60,278.28 L185.12,278.76 L188.64,279.23 L192.16,279.71 L195.69,280.19 L199.21,280.67 L202.73,281.15 L206.26,281.63 L209.78,282.11 L213.30,282.58 L216.83,283.05 L220.35,283.51 L223.87,283.97 L227.40,284.42 L230.92,284.86 L234.44,285.30 L237.96,285.73 L241.49,286.15 L245.01,286.56 L248.53,286.96 L252.06,287.35 L255.58,287.73 L259.10,288.10 L262.63,288.45 L266.15,288.80 L269.67,289.14 L273.20,289.47 L276.72,289.79 L280.24,290.10 L283.77,290.40 L287.29,290.69 L290.81,290.97 L294.33,291.24 L297.86,291.51 L301.38,291.76 L304.90,292.01 L308.43,292.25 L311.95,292.49 L315.47,292.71 L319.00,292.93 L322.52,293.14 L326.04,293.35 L329.57,293.54 L333.09,293.73 L336.61,293.92 L340.14,294.10 L343.66,294.27 L347.18,294.43 L350.70,294.59 L354.23,294.75 L357.75,294.90 L361.27,295.04 L364.80,295.18 L368.32,295.31 L371.84,295.44 L375.37,295.57 L378.89,295.69 L382.41,295.80 L385.94,295.92 L389.46,296.02 L392.98,296.13 L396.50,296.23 L400.03,296.33 L403.55,296.42 L407.07,296.52 L410.60,296.61 L414.12,296.69 L417.64,296.78 L421.17,296.86 L424.69,296.94 L428.21,297.02 L431.74,297.10 L435.26,297.18 L438.78,297.25 L442.31,297.33 L445.83,297.40 L449.35,297.47 L452.87,297.54 L456.40,297.61 L459.92,297.69 L463.44,297.76 L466.97,297.83 L470.49,297.90 L474.01,297.97 L477.54,298.05 L481.06,298.12 L484.58,298.20 L488.11,298.27 L491.63,298.35 L495.15,298.43 L498.68,298.51" fill="none" stroke="#767676" stroke-width="1.0" stroke-linejoin="round"/>
<circle cx="79.42" cy="311.23" r="1.95" fill="#9DB5E6" stroke="#4472C4" stroke-width="1.1"/><circle cx="121.35" cy="315.38" r="1.95" fill="#9DB5E6" stroke="#4472C4" stroke-width="1.1"/><circle cx="163.28" cy="312.18" r="1.95" fill="#9DB5E6" stroke="#4472C4" stroke-width="1.1"/><circle cx="205.20" cy="303.23" r="1.95" fill="#9DB5E6" stroke="#4472C4" stroke-width="1.1"/><circle cx="247.12" cy="307.08" r="1.95" fill="#9DB5E6" stroke="#4472C4" stroke-width="1.1"/><circle cx="289.05" cy="292.02" r="1.95" fill="#9DB5E6" stroke="#4472C4" stroke-width="1.1"/><circle cx="330.98" cy="303.08" r="1.95" fill="#9DB5E6" stroke="#4472C4" stroke-width="1.1"/><circle cx="372.90" cy="294.27" r="1.95" fill="#9DB5E6" stroke="#4472C4" stroke-width="1.1"/><circle cx="414.82" cy="293.40" r="1.95" fill="#9DB5E6" stroke="#4472C4" stroke-width="1.1"/><circle cx="456.75" cy="285.39" r="1.95" fill="#9DB5E6" stroke="#4472C4" stroke-width="1.1"/><circle cx="498.68" cy="255.40" r="1.95" fill="#9DB5E6" stroke="#4472C4" stroke-width="1.1"/>
<path d="M79.42,313.77L81.62,317.84L77.22,317.84Z" fill="#F0955A" stroke="#ED7D31" stroke-width="0.8"/><path d="M121.35,323.23L123.55,327.30L119.15,327.30Z" fill="#F0955A" stroke="#ED7D31" stroke-width="0.8"/><path d="M163.28,325.41L165.47,329.48L161.08,329.48Z" fill="#F0955A" stroke="#ED7D31" stroke-width="0.8"/><path d="M205.20,314.71L207.40,318.78L203.00,318.78Z" fill="#F0955A" stroke="#ED7D31" stroke-width="0.8"/><path d="M247.12,320.54L249.32,324.61L244.93,324.61Z" fill="#F0955A" stroke="#ED7D31" stroke-width="0.8"/><path d="M289.05,315.08L291.25,319.15L286.85,319.15Z" fill="#F0955A" stroke="#ED7D31" stroke-width="0.8"/><path d="M330.98,310.27L333.18,314.34L328.78,314.34Z" fill="#F0955A" stroke="#ED7D31" stroke-width="0.8"/><path d="M372.90,313.98L375.10,318.05L370.70,318.05Z" fill="#F0955A" stroke="#ED7D31" stroke-width="0.8"/><path d="M414.82,299.72L417.02,303.79L412.62,303.79Z" fill="#F0955A" stroke="#ED7D31" stroke-width="0.8"/><path d="M456.75,287.49L458.95,291.56L454.55,291.56Z" fill="#F0955A" stroke="#ED7D31" stroke-width="0.8"/><path d="M498.68,294.04L500.88,298.11L496.48,298.11Z" fill="#F0955A" stroke="#ED7D31" stroke-width="0.8"/>
<path d="M79.42,276.70L81.92,279.20L79.42,281.70L76.92,279.20Z" fill="#FF0000"/><path d="M121.35,275.76L123.85,278.26L121.35,280.76L118.85,278.26Z" fill="#FF0000"/><path d="M163.28,271.61L165.78,274.11L163.28,276.61L160.78,274.11Z" fill="#FF0000"/><path d="M205.20,274.37L207.70,276.87L205.20,279.37L202.70,276.87Z" fill="#FF0000"/><path d="M247.12,279.69L249.62,282.19L247.12,284.69L244.62,282.19Z" fill="#FF0000"/><path d="M289.05,282.89L291.55,285.39L289.05,287.89L286.55,285.39Z" fill="#FF0000"/><path d="M330.98,281.07L333.48,283.57L330.98,286.07L328.48,283.57Z" fill="#FF0000"/><path d="M372.90,282.74L375.40,285.24L372.90,287.74L370.40,285.24Z" fill="#FF0000"/><path d="M414.82,284.20L417.32,286.70L414.82,289.20L412.32,286.70Z" fill="#FF0000"/><path d="M456.75,282.89L459.25,285.39L456.75,287.89L454.25,285.39Z" fill="#FF0000"/><path d="M498.68,276.48L501.18,278.98L498.68,281.48L496.18,278.98Z" fill="#FF0000"/>
<path d="M79.42,271.02L81.92,273.52L79.42,276.02L76.92,273.52Z" fill="#437F2F"/><path d="M121.35,266.87L123.85,269.37L121.35,271.87L118.85,269.37Z" fill="#437F2F"/><path d="M163.28,275.39L165.78,277.89L163.28,280.39L160.78,277.89Z" fill="#437F2F"/><path d="M205.20,283.69L207.70,286.19L205.20,288.69L202.70,286.19Z" fill="#437F2F"/><path d="M247.12,279.61L249.62,282.11L247.12,284.61L244.62,282.11Z" fill="#437F2F"/><path d="M289.05,291.41L291.55,293.91L289.05,296.41L286.55,293.91Z" fill="#437F2F"/><path d="M330.98,290.90L333.48,293.40L330.98,295.90L328.48,293.40Z" fill="#437F2F"/><path d="M372.90,291.41L375.40,293.91L372.90,296.41L370.40,293.91Z" fill="#437F2F"/><path d="M414.82,295.05L417.32,297.55L414.82,300.05L412.32,297.55Z" fill="#437F2F"/><path d="M456.75,295.12L459.25,297.62L456.75,300.12L454.25,297.62Z" fill="#437F2F"/><path d="M498.68,296.50L501.18,299.00L498.68,301.50L496.18,299.00Z" fill="#437F2F"/>
<rect x="244.50" y="216.60" width="227.00" height="49.90" fill="#fff" stroke="#3A3A3A" stroke-width="1.3"/><circle cx="260.10" cy="222.80" r="1.95" fill="#9DB5E6" stroke="#4472C4" stroke-width="1.1"/><text x="272.00" y="225.60" class="lg" textLength="160.2" lengthAdjust="spacingAndGlyphs">Width @ D = 1.66 mm, Filter 450nm</text><path d="M260.10,232.90L262.30,236.97L257.90,236.97Z" fill="#F0955A" stroke="#ED7D31" stroke-width="0.8"/><text x="272.00" y="237.90" class="lg" textLength="160.2" lengthAdjust="spacingAndGlyphs">Width @ D = 2.16 mm, Filter 450nm</text><path d="M260.10,244.90L262.60,247.40L260.10,249.90L257.60,247.40Z" fill="#FF0000"/><text x="272.00" y="250.20" class="lg" textLength="160.2" lengthAdjust="spacingAndGlyphs">Width @ D = 1.66 mm, Filter 400nm</text><path d="M260.10,257.20L262.60,259.70L260.10,262.20L257.60,259.70Z" fill="#437F2F"/><text x="272.00" y="262.50" class="lg" textLength="160.2" lengthAdjust="spacingAndGlyphs">Width @ D = 2.16 mm, Filter 400nm</text>
</svg>
</body></html>
